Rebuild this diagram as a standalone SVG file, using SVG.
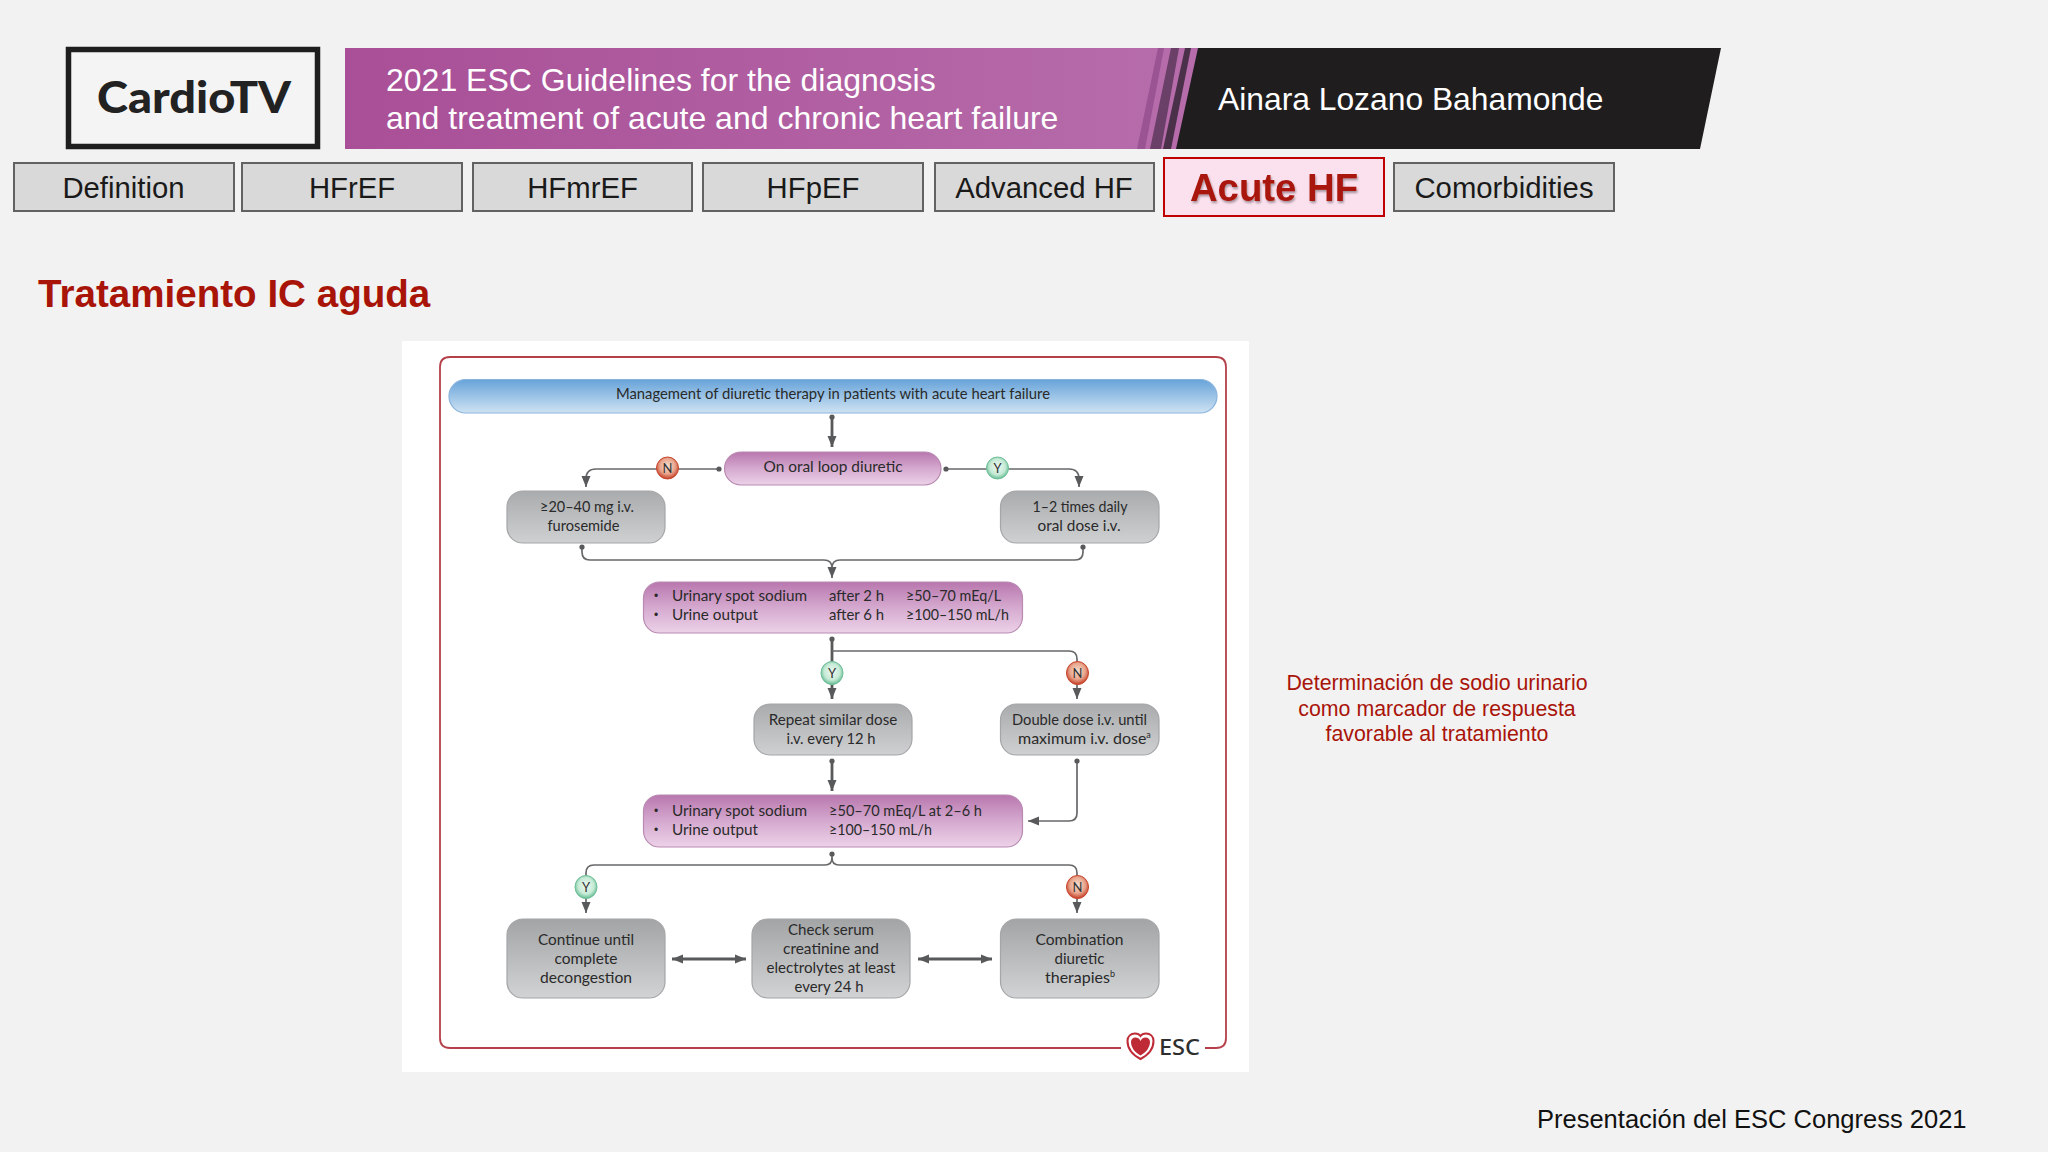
<svg xmlns="http://www.w3.org/2000/svg" width="2048" height="1152" viewBox="0 0 2048 1152">
<style>
text{font-family:"Liberation Sans",Arial,sans-serif}
.tab{fill:#d9d9d9;stroke:#626262;stroke-width:2}
.tabt{font-size:29.3px;fill:#1a1a1a;text-anchor:middle}
.f{font-family:Lato,"Open Sans",sans-serif;font-size:16px;fill:#2a2a2a}
.bu{font-size:12px;fill:#2a2a2a}
.m{text-anchor:middle}
.pink{fill:url(#gp);stroke:#b98ab2;stroke-width:1.2}
.grey{fill:url(#gg);stroke:#a4a6a8;stroke-width:1.2}
.gr2{fill:url(#gg2);stroke:#a4a6a8;stroke-width:1.2}
.c{fill:none;stroke:#67686a;stroke-width:1.7}
.b{stroke-width:2.800;stroke:#58595b}
.ya{fill:url(#gy);stroke:#6fbf98;stroke-width:1}
.no{fill:url(#gn);stroke:#c8452c;stroke-width:1}
.lt{font-family:Lato,"Open Sans",sans-serif;font-size:13px;fill:#333;text-anchor:middle}
.red{font-size:21.33px;fill:#a91409;text-anchor:middle}
</style>
<defs>
<linearGradient id="gb" x1="0" x2="0" y1="0" y2="1"><stop offset="0" stop-color="#67a3d9"/><stop offset="1" stop-color="#cfe3f3"/></linearGradient>
<linearGradient id="gp" x1="0" x2="0" y1="0" y2="1"><stop offset="0" stop-color="#b877ae"/><stop offset=".5" stop-color="#d5a9cf"/><stop offset="1" stop-color="#ecd2e8"/></linearGradient>
<linearGradient id="gg" x1="0" x2="0" y1="0" y2="1"><stop offset="0" stop-color="#a9abad"/><stop offset="1" stop-color="#cfd0d2"/></linearGradient>
<linearGradient id="gg2" x1="0" x2="0" y1="0" y2="1"><stop offset="0" stop-color="#a2a4a6"/><stop offset="1" stop-color="#d2d3d5"/></linearGradient>
<linearGradient id="gh" x1="0" x2="1" y1="0" y2="0"><stop offset="0" stop-color="#a94f97"/><stop offset="1" stop-color="#b76dab"/></linearGradient>
<radialGradient id="gy" cx=".5" cy=".45" r=".55"><stop offset="0" stop-color="#eef9f2"/><stop offset=".65" stop-color="#c6ead6"/><stop offset="1" stop-color="#63bd93"/></radialGradient>
<radialGradient id="gn" cx=".5" cy=".42" r=".58"><stop offset="0" stop-color="#f6e0d2"/><stop offset=".6" stop-color="#e8a58c"/><stop offset="1" stop-color="#c63d26"/></radialGradient>
<marker id="a" markerUnits="userSpaceOnUse" markerWidth="12" markerHeight="10" refX="11" refY="5" orient="auto"><path d="M0,.5L11,5L0,9.5Z" fill="#58595b"/></marker>
<marker id="as" markerUnits="userSpaceOnUse" markerWidth="12" markerHeight="10" refX="1" refY="5" orient="auto"><path d="M12,.5L1,5L12,9.5Z" fill="#58595b"/></marker>
<marker id="d" markerUnits="userSpaceOnUse" markerWidth="8" markerHeight="8" refX="4" refY="4"><circle cx="4" cy="4" r="2.600" fill="#58595b"/></marker>
<filter id="sh" x="-10%" y="-10%" width="120%" height="130%"><feDropShadow dx="1" dy="2" stdDeviation="1" flood-color="#000" flood-opacity=".35"/></filter>
</defs>
<rect width="2048" height="1152" fill="#f2f2f2"/>

<g id="logo"><rect x="68.500" y="49.500" width="249" height="97" fill="#f4f4f4" stroke="#1e1e1e" stroke-width="5.500"/>
<text x="194" y="113" font-size="44" font-weight="900" text-anchor="middle" style="font-family:Lato,'Open Sans',sans-serif" fill="#222" textLength="194" lengthAdjust="spacingAndGlyphs">CardioTV</text></g>

<g id="banner">
<rect x="345" y="48" width="860" height="101" fill="url(#gh)"/>
<path d="M1158,48H1164L1145,149H1137Z" fill="#9a5393"/>
<path d="M1171,48H1179L1161,149H1150Z" fill="#6a3f68"/>
<path d="M1185,48H1191L1171,149H1163Z" fill="#4a3048"/>
<path d="M1198,48H1721L1700,149H1176Z" fill="#1f1d1e"/>
<text x="386" y="91" font-size="32" fill="#fff">2021 ESC Guidelines for the diagnosis</text>
<text x="386" y="129" font-size="32" fill="#fff">and treatment of acute and chronic heart failure</text>
<text x="1218" y="110" font-size="31.800" fill="#fff">Ainara Lozano Bahamonde</text>
</g>

<g id="tab-definition"><rect class="tab" x="14" y="163" width="220" height="48"/><text class="tabt" x="123.500" y="198">Definition</text></g>
<g id="tab-hfref"><rect class="tab" x="242" y="163" width="220" height="48"/><text class="tabt" x="352" y="198">HFrEF</text></g>
<g id="tab-hfmref"><rect class="tab" x="473" y="163" width="219" height="48"/><text class="tabt" x="582.500" y="198">HFmrEF</text></g>
<g id="tab-hfpef"><rect class="tab" x="703" y="163" width="220" height="48"/><text class="tabt" x="813" y="198">HFpEF</text></g>
<g id="tab-advanced"><rect class="tab" x="935" y="163" width="219" height="48"/><text class="tabt" x="1044" y="198">Advanced HF</text></g>
<g id="tab-acute"><rect x="1164" y="158" width="220" height="58" fill="#fbe0ee" stroke="#c00000" stroke-width="2"/><text x="1274" y="201" font-size="38.300" font-weight="700" fill="#a91409" text-anchor="middle" filter="url(#sh)">Acute HF</text></g>
<g id="tab-comorbidities"><rect class="tab" x="1394" y="163" width="220" height="48"/><text class="tabt" x="1504" y="198">Comorbidities</text></g>

<text id="heading" x="38" y="307" font-size="38.600" font-weight="700" fill="#a91409">Tratamiento IC aguda</text>

<rect id="panel" x="402" y="341" width="847" height="731" fill="#fff"/>
<path id="frame" d="M1205,1048H1216Q1226,1048 1226,1038V367Q1226,357 1216,357H450Q440,357 440,367V1038Q440,1048 450,1048H1121" fill="none" stroke="#b5404a" stroke-width="1.800"/>

<g id="connectors">
<path class="c b" d="M832,417V447" marker-start="url(#d)" marker-end="url(#a)"/>
<path class="c" d="M719,469H596Q586,469 586,479V487" marker-start="url(#d)" marker-end="url(#a)"/>
<path class="c" d="M946,469H1069Q1079,469 1079,479V487" marker-start="url(#d)" marker-end="url(#a)"/>
<path class="c" d="M582,547V552Q582,560 590,560H824Q832,560 832,568V578" marker-start="url(#d)" marker-end="url(#a)"/>
<path class="c" d="M1083,547V552Q1083,560 1075,560H840Q832,560 832,568" marker-start="url(#d)"/>
<path class="c b" d="M832,639V699" marker-start="url(#d)" marker-end="url(#a)"/>
<path class="c" d="M832,651H1069Q1077,651 1077,659V699" marker-end="url(#a)"/>
<path class="c b" d="M832,761V791" marker-start="url(#d)" marker-end="url(#a)"/>
<path class="c" d="M1077,761V813Q1077,821 1069,821H1028" marker-start="url(#d)" marker-end="url(#a)"/>
<path class="c" d="M832,854V858Q832,865 825,865H594Q586,865 586,873V913" marker-start="url(#d)" marker-end="url(#a)"/>
<path class="c" d="M832,858Q832,865 839,865H1069Q1077,865 1077,873V913" marker-end="url(#a)"/>
<path class="c b" d="M672,959H746" marker-start="url(#as)" marker-end="url(#a)"/>
<path class="c b" d="M918,959H992" marker-start="url(#as)" marker-end="url(#a)"/>
</g>

<g id="node-title"><rect x="449" y="379.500" width="768" height="33.500" rx="16.700" fill="url(#gb)" stroke="#8ab4dc" stroke-width="1.200"/><text class="f m" x="833" y="399" textLength="434" lengthAdjust="spacingAndGlyphs">Management of diuretic therapy in patients with acute heart failure</text></g>
<g id="node-oral"><rect class="pink" x="724.500" y="452" width="216.500" height="33" rx="16.500"/><text class="f m" x="833" y="472" textLength="139" lengthAdjust="spacingAndGlyphs">On oral loop diuretic</text></g>
<g id="badge-n1"><ellipse class="no" cx="667.500" cy="468" rx="11" ry="11"/><text class="lt" x="667.500" y="473">N</text></g>
<g id="badge-y1"><ellipse class="ya" cx="997.500" cy="468" rx="11" ry="11"/><text class="lt" x="997.500" y="473">Y</text></g>
<g id="node-furosemide"><rect class="grey" x="507" y="491" width="158" height="52" rx="16"/><text class="f m" x="587" y="512" textLength="94" lengthAdjust="spacingAndGlyphs">≥20–40 mg i.v.</text><text class="f m" x="583.500" y="531" textLength="72" lengthAdjust="spacingAndGlyphs">furosemide</text></g>
<g id="node-oraldose"><rect class="grey" x="1000.500" y="491" width="158.500" height="52" rx="16"/><text class="f m" x="1080" y="512" textLength="95" lengthAdjust="spacingAndGlyphs">1–2 times daily</text><text class="f m" x="1079" y="531" textLength="83" lengthAdjust="spacingAndGlyphs">oral dose i.v.</text></g>
<g id="node-check1"><rect class="pink" x="643.500" y="582" width="379" height="51" rx="16"/>
<text class="bu" x="654" y="600">•</text><text class="f" x="672" y="601" textLength="135" lengthAdjust="spacingAndGlyphs">Urinary spot sodium</text><text class="f" x="829" y="601" textLength="55" lengthAdjust="spacingAndGlyphs">after 2 h</text><text class="f" x="906" y="601" textLength="95" lengthAdjust="spacingAndGlyphs">≥50–70 mEq/L</text>
<text class="bu" x="654" y="619">•</text><text class="f" x="672" y="620" textLength="86" lengthAdjust="spacingAndGlyphs">Urine output</text><text class="f" x="829" y="620" textLength="55" lengthAdjust="spacingAndGlyphs">after 6 h</text><text class="f" x="906" y="620" textLength="103" lengthAdjust="spacingAndGlyphs">≥100–150 mL/h</text></g>
<g id="badge-y2"><ellipse class="ya" cx="832" cy="673" rx="11" ry="11.500"/><text class="lt" x="832" y="678">Y</text></g>
<g id="badge-n2"><ellipse class="no" cx="1077.500" cy="673" rx="11" ry="11.500"/><text class="lt" x="1077.500" y="678">N</text></g>
<g id="node-repeat"><rect class="grey" x="754" y="704" width="158" height="51" rx="16"/><text class="f m" x="833" y="725" textLength="128.500" lengthAdjust="spacingAndGlyphs">Repeat similar dose</text><text class="f m" x="831" y="744" textLength="89" lengthAdjust="spacingAndGlyphs">i.v. every 12 h</text></g>
<g id="node-double"><rect class="grey" x="1000.500" y="704" width="158.500" height="51" rx="16"/><text class="f m" x="1079.500" y="725" textLength="135" lengthAdjust="spacingAndGlyphs">Double dose i.v. until</text><text class="f" x="1018" y="744">maximum i.v. dose<tspan font-size="9" dy="-6">a</tspan></text></g>
<g id="node-check2"><rect class="pink" x="643.500" y="795" width="379" height="52" rx="16"/>
<text class="bu" x="654" y="815">•</text><text class="f" x="672" y="816" textLength="135" lengthAdjust="spacingAndGlyphs">Urinary spot sodium</text><text class="f" x="829" y="816" textLength="153" lengthAdjust="spacingAndGlyphs">≥50–70 mEq/L at 2–6 h</text>
<text class="bu" x="654" y="834">•</text><text class="f" x="672" y="835" textLength="86" lengthAdjust="spacingAndGlyphs">Urine output</text><text class="f" x="829" y="835" textLength="103" lengthAdjust="spacingAndGlyphs">≥100–150 mL/h</text></g>
<g id="badge-y3"><ellipse class="ya" cx="586" cy="887" rx="11" ry="11.500"/><text class="lt" x="586" y="892">Y</text></g>
<g id="badge-n3"><ellipse class="no" cx="1077.500" cy="887" rx="11" ry="11.500"/><text class="lt" x="1077.500" y="892">N</text></g>
<g id="node-continue"><rect class="gr2" x="507" y="919" width="158" height="79" rx="16"/><text class="f m" x="586" y="945" textLength="96" lengthAdjust="spacingAndGlyphs">Continue until</text><text class="f m" x="586" y="964" textLength="63" lengthAdjust="spacingAndGlyphs">complete</text><text class="f m" x="586" y="983" textLength="92" lengthAdjust="spacingAndGlyphs">decongestion</text></g>
<g id="node-check-serum"><rect class="gr2" x="752" y="919" width="158" height="79" rx="16"/><text class="f m" x="831" y="935" textLength="86" lengthAdjust="spacingAndGlyphs">Check serum</text><text class="f m" x="831" y="954" textLength="96" lengthAdjust="spacingAndGlyphs">creatinine and</text><text class="f m" x="831" y="973" textLength="129" lengthAdjust="spacingAndGlyphs">electrolytes at least</text><text class="f m" x="829" y="992" textLength="69" lengthAdjust="spacingAndGlyphs">every 24 h</text></g>
<g id="node-combination"><rect class="gr2" x="1000.500" y="919" width="158.500" height="79" rx="16"/><text class="f m" x="1079.500" y="945" textLength="88" lengthAdjust="spacingAndGlyphs">Combination</text><text class="f m" x="1079.500" y="964" textLength="50" lengthAdjust="spacingAndGlyphs">diuretic</text><text class="f" x="1045" y="983">therapies<tspan font-size="9" dy="-6">b</tspan></text></g>

<g id="esc-logo"><path d="M1140.500,1059C1131,1054 1127.500,1047 1127.500,1041C1127.500,1036 1131,1033.500 1135,1033.500C1137.500,1033.500 1139.500,1034.500 1140.500,1036C1141.500,1034.500 1143.500,1033.500 1146,1033.500C1150,1033.500 1153.500,1036 1153.500,1041C1153.500,1047 1150,1054 1140.500,1059Z" fill="#fff" stroke="#be2a35" stroke-width="2"/><path d="M1140.500,1055.500C1134,1052 1131,1046.500 1131,1042C1131,1039 1133,1037.500 1135.500,1037.500C1137.500,1037.500 1139.500,1038.500 1140.500,1041C1141.500,1038.500 1143.500,1037.500 1145.500,1037.500C1148,1037.500 1150,1039 1150,1042C1150,1046.500 1147,1052 1140.500,1055.500Z" fill="#be2a35"/>
<text x="1159" y="1055" font-size="21" font-weight="500" fill="#2e2e2e" style="font-family:'Noto Sans',sans-serif" textLength="41" lengthAdjust="spacingAndGlyphs">ESC</text></g>

<g id="note"><text class="red" x="1437" y="689.500">Determinación de sodio urinario</text><text class="red" x="1437" y="715.500">como marcador de respuesta</text><text class="red" x="1437" y="741">favorable al tratamiento</text></g>
<text id="footer" x="1537" y="1128" font-size="25.500" fill="#111">Presentación del ESC Congress 2021</text>
</svg>
